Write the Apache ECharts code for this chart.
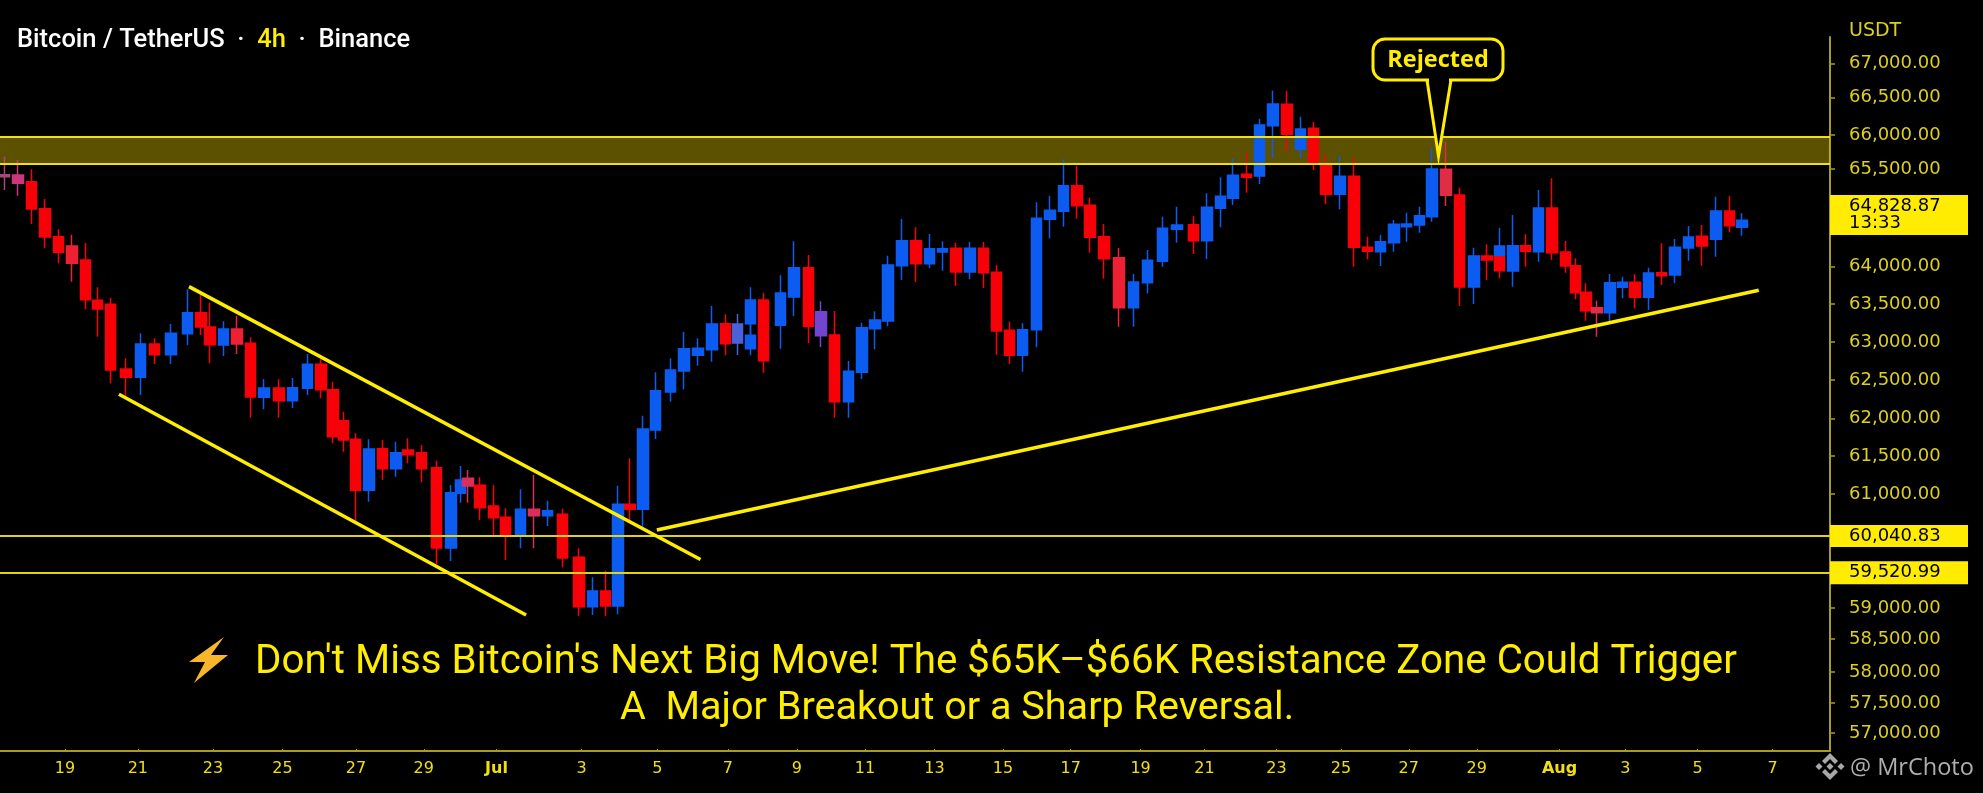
<!DOCTYPE html>
<html><head><meta charset="utf-8">
<style>html,body{margin:0;padding:0;background:#000}#c{width:1983px;height:793px}</style>
<script src="https://cdn.jsdelivr.net/npm/echarts@6/dist/echarts.min.js"></script>
</head><body><div id="c"></div>
<script>
// hours since the left edge of the chart
const hours=[3,12,21,30,39,48,57,65,73.5,84,93.5,103,114,125,134,140,149,158,167,176,186,195,205,214,222,229,237,246,255,264,272,281,291,300.5,307,312,320,329,337,347,356,365,375,386,395,403.5,412,420,428.5,437,447,456,465.4,474.7,483.6,491.5,500.2,500.2,509,520.4,529.4,539,547.3,556.3,565.5,574.8,583.2,592,601.2,610.5,619.7,628.4,637.4,646.7,655.6,664.3,673,681.7,691,700,709,718,726.5,736,746,755.5,765,775,784.5,795.8,804.8,813.5,822,830.9,839.5,848.7,858,866.9,875.5,884,893.3,902.8,911.5,920.4,929.3,937.5,946.2,954.6,964,973,982.7,991.3,999.8,999.8,1008.5,1016.9,1025.5,1034.7,1043.7,1050.3,1057.3,1064.8,1073.3,1081.7,1089.9,1099,1107.7,1116.6,1125.5,1134.5,1144,1152.9,1161.3];
const opens=[65214,65210,65121,64765,64396,64273,64089,63557,63504,62651,
62541,62981,62840,63117,63393,63205,62967,63179,62990,62278,
62400,62233,62396,62713,62378,61969,61724,61051,61600,61336,
61583,61547,61349,60290,61011,61209,61117,60844,60695,60471,
60800,60716,60735,60167,59516,59723,59525,60866,60800,61846,
62348,62625,62832,62906,63248,62994,62919,63248,63561,63227,
63601,63987,63090,63099,62220,62607,63182,63284,64013,64343,
64040,64194,64243,63930,64243,63926,63161,62832,63169,64625,
64731,65069,64810,64396,64119,63459,63789,64071,64494,64554,
64341,64771,64904,65219,65197,65860,66142,65549,65826,65351,
64955,65193,64256,64198,64317,64528,64550,64660,65285,64946,
63733,64141,64141,64132,63944,64277,64198,64775,64194,64013,
63663,63459,63394,63728,63795,63597,63921,63891,64247,64401,
64362,64735,64520];
const closes=[65187,65100,64761,64392,64190,64045,63565,63442,62638,62541,
62981,62840,63122,63393,63205,62971,63179,62981,62282,62400,
62233,62404,62713,62378,61758,61714,61051,61596,61336,61547,
61521,61336,60290,61019,61187,61108,60821,60690,60471,60800,
60716,60782,60158,59516,59723,59525,60866,60800,61860,62365,
62638,62919,62924,63244,62985,63244,63096,63561,62760,63653,
63987,63214,63407,62220,62621,63196,63297,64023,64343,64040,
64238,64238,63930,64243,63921,63152,62832,63169,64639,64744,
65069,64805,64388,64106,63459,63798,64085,64507,64550,64343,
64784,64930,65207,65179,65869,66146,65747,65816,65364,64955,
65193,64256,64203,64330,64560,64563,64673,65289,64942,63733,
64141,64089,64273,63947,64277,64203,64775,64185,64010,63657,
63420,63394,63789,63795,63597,63917,63881,64256,64392,64273,
64735,64541,64612];
const lows=[65012,64937,64563,64243,64045,63802,63438,63077,62462,62299,
62308,62717,62717,62968,63099,62726,62822,62849,62008,62119,
62008,62137,62308,62265,61671,61560,60650,60901,61187,61230,
61407,61157,60075,60118,60887,60887,60659,60461,60132,60286,
60286,60580,60035,59393,59406,59393,59415,60637,60571,61728,
62220,62383,62694,62747,62832,62836,62832,63099,62602,62919,
63350,62990,62941,62008,62008,62519,62911,63218,63825,63798,
63979,63947,63746,63834,63719,62835,62717,62615,62937,64375,
64528,64633,64185,63842,63209,63209,63649,64000,64317,64168,
64102,64520,64814,64976,65091,65434,65517,65434,65276,64823,
64757,64000,64098,64010,64198,64330,64449,64594,64801,63482,
63508,63825,64089,63847,63737,64000,64066,64089,63921,63570,
63288,63077,63245,63583,63452,63429,63759,63781,64079,64013,
64132,64454,64409];
const highs=[65451,65408,65285,64893,64494,64422,64313,63729,63591,62792,
63122,63056,63244,63702,63627,63525,63280,63350,63069,62519,
62515,62532,62849,62779,62479,62088,61803,61724,61714,61692,
61737,61648,61441,61121,61371,61319,61222,61121,60814,61064,
61253,60914,60808,60286,59904,59991,61112,61473,62035,62607,
62792,63139,63056,63482,63372,63376,63248,63729,63657,63887,
64335,64155,63544,63416,62756,63262,63412,64145,64629,64520,
64431,64335,64317,64326,64326,64023,63275,63254,64850,64937,
65417,65332,64910,64563,64247,63904,64221,64660,64792,64669,
64970,65179,65431,65504,65948,66322,66318,65979,65913,65474,
65460,65443,64396,64418,64616,64712,64792,65562,65649,65042,
64251,64296,64515,64141,64682,64431,65012,65166,64339,64111,
63781,63552,63904,63868,63904,63987,64309,64366,64537,64550,
64924,64937,64705];
const tintIndex=[0,1,5,17,35,40,55,62,84,108,121];
const tintColor=['#a8477c','#c8387a','#ee2034','#ee2034','#d8305a','#d8305a','#4a62d8','#7344d0','#ee2034','#e02c44','#e02c44'];

const xTickHours=[43.3,91.9,142,188.3,237.3,282.5,331,387.7,438.2,485.3,531.2,576.7,623,668.7,713.8,760.4,803,851,894,939.2,984.5,1039.7,1083.5,1131.7,1181.7];
const xTickLabels=['19','21','23','25','27','29','Jul','3','5','7','9','11','13','15','17','19','21','23','25','27','29','Aug','3','5','7'];
const yTickPositions=[66683,66232,65737,65289,64000,63508,63007,62506,61995,61503,61002,59498,59090,58654,58245,57850];
const yTickLabels=['67,000.00','66,500.00','66,000.00','65,500.00','64,000.00','63,500.00','63,000.00','62,500.00','62,000.00','61,500.00','61,000.00','59,000.00','58,500.00','58,000.00','57,500.00','57,000.00'];

const resistanceZone=[65711,65355];
const supportLevels=[60448,59964];
const supportLabels=['60,040.83','59,520.99'];
const lastPriceLevel=64682;
const lastPriceLabel='64,828.87\n13:33';
const channelTop=[[126,63737],[467,60138]];
const channelBottom=[[79.3,62317],[350.7,59406]];
const supportTrend=[[437.9,60527],[1172.5,63689]];

const UP='#0d5cf2',DOWN='#f80008',YEL='#ffee00',AXISC='#a89c1c',TICKC='#dccf1e';
const candleData=hours.map((t,i)=>{
  const item={value:[t,opens[i],closes[i],lows[i],highs[i]]};
  const k=tintIndex.indexOf(i);
  if(k>=0){item.itemStyle={color:tintColor[k],color0:tintColor[k],borderColor:tintColor[k],borderColor0:tintColor[k]};}
  return item;
});
const boxLabel=(text,h,lh)=>({show:true,position:'end',distance:0,formatter:text,color:'#000',fontFamily:'DejaVu Sans',fontSize:18,
  backgroundColor:'#ffec00',width:119,height:h,lineHeight:lh,padding:[2,0,0,19],align:'left',verticalAlign:'middle'});
const diamond=(cx,cy,r)=>[[cx,cy-r],[cx+r,cy],[cx,cy+r],[cx-r,cy]];
const GREY='#a8a8a8';

const chart=echarts.init(document.getElementById('c'),null,{renderer:'canvas'});
chart.setOption({
  animation:false,backgroundColor:'#000',
  title:[
    {text:'Bitcoin / TetherUS  ·  {y|4h}  ·  Binance',left:17,top:28,padding:0,textStyle:{color:'#fff',fontFamily:'Roboto',fontWeight:500,fontSize:25.5,
      rich:{y:{color:'#ffee00',fontFamily:'Roboto',fontWeight:500,fontSize:25.5}}}},
    {text:"Don't Miss Bitcoin's Next Big Move! The $65K–$66K Resistance Zone Could Trigger",left:991,top:638,textAlign:'center',textStyle:{color:YEL,fontFamily:'Roboto',fontWeight:400,fontSize:40.3}},
    {text:'A  Major Breakout or a Sharp Reversal.',left:952,top:684,textAlign:'center',textStyle:{color:YEL,fontFamily:'Roboto',fontWeight:400,fontSize:39.6}}
  ],
  grid:{left:0,right:153,top:37,bottom:42,containLabel:false},
  xAxis:{type:'value',min:0,max:1220,splitLine:{show:false},
    axisLine:{lineStyle:{color:AXISC,width:2}},
    axisTick:{show:true,customValues:xTickHours,length:2,inside:true,lineStyle:{color:AXISC}},
    axisLabel:{customValues:xTickHours,margin:10,color:'#f0e010',fontFamily:'DejaVu Sans',fontSize:16,
      formatter:v=>{const s=xTickLabels[xTickHours.indexOf(v)];return (s==='Jul'||s==='Aug')?'{b|'+s+'}':s;},
      rich:{b:{fontWeight:'bold',color:'#f0e010',fontFamily:'DejaVu Sans',fontSize:16}}}},
  yAxis:{type:'value',position:'right',min:57612,max:67030,splitLine:{show:false},
    axisLine:{show:true,onZero:false,lineStyle:{color:AXISC,width:2}},
    axisTick:{show:true,customValues:yTickPositions,length:5,lineStyle:{color:AXISC,width:1.5}},
    axisLabel:{customValues:yTickPositions,margin:19,color:TICKC,fontFamily:'DejaVu Sans',fontSize:18,padding:[4,0,0,0],
      formatter:v=>yTickLabels[yTickPositions.indexOf(v)]},
    name:'USDT',nameLocation:'end',nameGap:-4,nameTextStyle:{color:TICKC,fontFamily:'DejaVu Sans',fontSize:19,align:'left',padding:[0,0,0,19]}},
  series:[
    {type:'line',name:'levels',data:[],z:1,silent:true,
     markLine:{silent:true,symbol:'none',animation:false,lineStyle:{color:'#e0d215',width:2,type:'solid'},
       data:[
         {yAxis:supportLevels[0],label:boxLabel(supportLabels[0],20,20)},
         {yAxis:supportLevels[1],label:boxLabel(supportLabels[1],21,21)},
         {yAxis:lastPriceLevel,lineStyle:{color:'rgba(0,0,0,0)'},label:boxLabel(lastPriceLabel,38,17)}
       ]}},
    {type:'candlestick',name:'BTCUSDT',z:2,layout:'horizontal',barWidth:11,data:candleData,silent:true,
     itemStyle:{color:UP,color0:DOWN,borderColor:UP,borderColor0:DOWN,borderWidth:1.5}},
    {type:'line',name:'zone',data:[],z:5,silent:true,
     markArea:{silent:true,animation:false,itemStyle:{color:'rgba(255,225,0,0.36)'},data:[[{yAxis:resistanceZone[0]},{yAxis:resistanceZone[1]}]]},
     markLine:{silent:true,symbol:'none',animation:false,label:{show:false},lineStyle:{color:'#f0e010',width:2,type:'solid'},
       data:[{yAxis:resistanceZone[0]},{yAxis:resistanceZone[1]}]}},
    {type:'line',name:'channelTop',data:channelTop,z:6,showSymbol:false,silent:true,lineStyle:{color:YEL,width:3.5}},
    {type:'line',name:'channelBottom',data:channelBottom,z:6,showSymbol:false,silent:true,lineStyle:{color:YEL,width:3.5}},
    {type:'line',name:'supportTrend',data:supportTrend,z:6,showSymbol:false,silent:true,lineStyle:{color:YEL,width:3.5}}
  ],
  graphic:[
    {type:'polygon',z:20,shape:{points:[[1427,80],[1438.5,156],[1451,80]]},style:{fill:'#000',stroke:'#ffee00',lineWidth:3}},
    {type:'rect',z:21,shape:{x:1373,y:39,width:130,height:41,r:12},style:{fill:'#000',stroke:'#ffee00',lineWidth:3}},
    {type:'line',z:22,shape:{x1:1429,y1:80,x2:1449,y2:80},style:{stroke:'#000',lineWidth:4}},
    {type:'text',z:23,x:1438,y:60,style:{text:'Rejected',fill:'#ffee00',font:'bold 23.5px "Open Sans"',textAlign:'center',textVerticalAlign:'middle'}},
    {type:'polygon',z:20,shape:{points:[[224,637],[189,662],[205,662],[194,683],[228,655],[211,655]]},style:{fill:'#f8b62a'}},
    {type:'polygon',z:20,shape:{points:[[1830,753],[1838,761],[1835,764],[1830,759],[1825,764],[1822,761]]},style:{fill:GREY}},
    {type:'polygon',z:20,shape:{points:[[1830,780],[1838,772],[1835,769],[1830,774],[1825,769],[1822,772]]},style:{fill:GREY}},
    {type:'polygon',z:20,shape:{points:diamond(1819,766.5,3.5)},style:{fill:GREY}},
    {type:'polygon',z:20,shape:{points:diamond(1841,766.5,3.5)},style:{fill:GREY}},
    {type:'polygon',z:20,shape:{points:diamond(1830,766.5,3.5)},style:{fill:GREY}},
    {type:'text',z:20,x:1850,y:768,style:{text:'@ MrChoto',fill:'#aeaeae',font:'23.5px "Open Sans"',textAlign:'left',textVerticalAlign:'middle'}}
  ]
});
</script></body></html>
